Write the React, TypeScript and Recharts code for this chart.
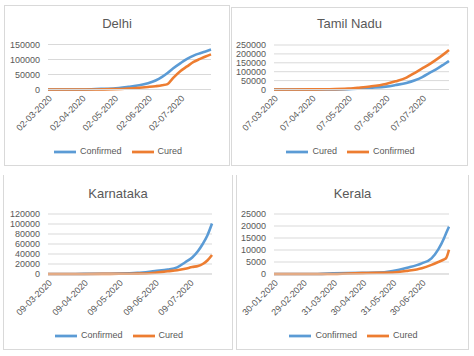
import React from 'react';
import { LineChart, Line, XAxis, YAxis, CartesianGrid, Legend } from 'recharts';

const BLUE = '#5b9bd5';
const ORANGE = '#ed7d31';
const TEXT = '#595959';
const GRID = '#d9d9d9';
const FONT = '"Liberation Sans", Arial, sans-serif';

// Delhi
const delhiDates = ['02-03-2020', '16-03-2020', '01-04-2020', '15-04-2020', '01-05-2020', '15-05-2020', '25-05-2020', '02-06-2020', '09-06-2020', '15-06-2020', '20-06-2020', '25-06-2020', '02-07-2020', '08-07-2020', '14-07-2020', '20-07-2020', '25-07-2020', '30-07-2020'];
const delhiConfirmed = [3, 7, 150, 1600, 3500, 9000, 14000, 21000, 30000, 42000, 55000, 70000, 88000, 102000, 113000, 121000, 127000, 133000];
const delhiCured = [0, 1, 10, 40, 1200, 3500, 6000, 8500, 11000, 14000, 18000, 38000, 62000, 77000, 92000, 102000, 110000, 117000];
const delhiTicks = ['02-03-2020', '02-04-2020', '02-05-2020', '02-06-2020', '02-07-2020'];
const delhiYTicks = [0, 50000, 100000, 150000];

// Tamil Nadu
const tnDates = ['07-03-2020', '20-03-2020', '07-04-2020', '20-04-2020', '07-05-2020', '15-05-2020', '25-05-2020', '07-06-2020', '15-06-2020', '24-06-2020', '01-07-2020', '07-07-2020', '14-07-2020', '20-07-2020', '25-07-2020', '29-07-2020'];
const tnConfirmed = [1, 3, 700, 1500, 5000, 10000, 17000, 31000, 46000, 67000, 94000, 118000, 147000, 175000, 200000, 222000];
const tnCured = [0, 0, 20, 400, 1500, 4000, 9000, 16000, 25000, 37000, 52000, 70000, 97000, 120000, 142000, 160000];
const tnTicks = ['07-03-2020', '07-04-2020', '07-05-2020', '07-06-2020', '07-07-2020'];
const tnYTicks = [0, 50000, 100000, 150000, 200000, 250000];

// Karnataka
const kaDates = ['09-03-2020', '25-03-2020', '09-04-2020', '25-04-2020', '09-05-2020', '25-05-2020', '09-06-2020', '20-06-2020', '28-06-2020', '05-07-2020', '11-07-2020', '16-07-2020', '20-07-2020', '24-07-2020', '28-07-2020'];
const kaConfirmed = [1, 50, 180, 500, 800, 2200, 5900, 8700, 13200, 23500, 33000, 46000, 60000, 77000, 101000];
const kaCured = [0, 3, 30, 190, 430, 700, 2600, 5600, 7500, 10500, 14000, 16000, 20000, 27000, 38000];
const kaTicks = ['09-03-2020', '09-04-2020', '09-05-2020', '09-06-2020', '09-07-2020'];
const kaYTicks = [0, 20000, 40000, 60000, 80000, 100000, 120000];

// Kerala
const klDates = ['30-01-2020', '15-02-2020', '29-02-2020', '15-03-2020', '31-03-2020', '15-04-2020', '30-04-2020', '15-05-2020', '31-05-2020', '15-06-2020', '30-06-2020', '10-07-2020', '17-07-2020', '23-07-2020', '25-07-2020', '28-07-2020'];
const klConfirmed = [1, 3, 3, 24, 241, 387, 497, 576, 1269, 2622, 4442, 6534, 10275, 15032, 16995, 19727];
const klCured = [0, 3, 3, 3, 20, 218, 369, 490, 608, 1300, 2400, 3800, 5000, 6100, 6600, 10100];
const klTicks = ['30-01-2020', '29-02-2020', '31-03-2020', '30-04-2020', '31-05-2020', '30-06-2020'];
const klYTicks = [0, 5000, 10000, 15000, 20000, 25000];

const dayOf = (s: string) => {
  const [d, m, y] = s.split('-').map(Number);
  return Date.UTC(y, m - 1, d) / 86400000;
};
const pad = (n: number) => String(n).padStart(2, '0');
const dateLabel = (t: number) => {
  const dt = new Date(t * 86400000);
  return `${pad(dt.getUTCDate())}-${pad(dt.getUTCMonth() + 1)}-${dt.getUTCFullYear()}`;
};

type Series = { key: 'confirmed' | 'cured'; name: string; color: string };
type Box = { left: number; top: number; width: number; height: number };
type Plot = { left: number; top: number; right: number; bottom: number };

type PanelProps = {
  title: string;
  dates: string[];
  confirmed: number[];
  cured: number[];
  ticks: string[];
  yTicks: number[];
  series: Series[];
  box: Box;
  plot: Plot;
  titleY: number;
  legendY: number;
  openTop?: boolean;
};

const LEGEND_H = 22;

const Panel: React.FC<PanelProps> = ({ title, dates, confirmed, cured, ticks, yTicks, series, box, plot, titleY, legendY, openTop }) => {
  const data = dates.map((d, i) => ({ t: dayOf(d), confirmed: confirmed[i], cured: cured[i] }));
  const first = dayOf(dates[0]);
  const last = dayOf(dates[dates.length - 1]);
  // keep legend entries in the order the series are listed
  const legendOrder = (item: any) => series.findIndex((s) => s.key === item.dataKey);
  return (
    <>
      <div
        style={{
          position: 'absolute',
          left: box.left,
          top: box.top,
          width: box.width,
          height: box.height,
          boxSizing: 'border-box',
          border: `1px solid ${GRID}`,
          borderTop: openTop ? 'none' : `1px solid ${GRID}`,
        }}
      />
      <div
        style={{
          position: 'absolute',
          left: box.left,
          width: box.width,
          top: titleY - 8,
          height: 16,
          lineHeight: '16px',
          textAlign: 'center',
          fontSize: 13,
          color: TEXT,
          fontFamily: FONT,
        }}
      >
        {title}
      </div>
      <div style={{ position: 'absolute', left: box.left, top: box.top }}>
        <LineChart
          width={box.width}
          height={box.height}
          data={data}
          margin={{ top: plot.top - box.top, right: box.left + box.width - plot.right, left: 0, bottom: 0 }}
          style={{ fontFamily: FONT }}
        >
          <CartesianGrid vertical={false} stroke={GRID} />
          <XAxis
            type="number"
            dataKey="t"
            domain={[first, last]}
            ticks={ticks.map(dayOf)}
            interval={0}
            tickFormatter={dateLabel}
            angle={-45}
            textAnchor="end"
            tickLine={false}
            tickSize={0}
            tickMargin={5}
            axisLine={{ stroke: GRID }}
            tick={{ fill: TEXT, fontSize: 9 }}
            height={box.top + box.height - plot.bottom}
          />
          <YAxis
            domain={[0, yTicks[yTicks.length - 1]]}
            ticks={yTicks}
            interval={0}
            axisLine={false}
            tickLine={false}
            tickSize={0}
            tickMargin={8}
            tick={{ fill: TEXT, fontSize: 9 }}
            width={plot.left - box.left}
          />
          <Legend
            verticalAlign="middle"
            align="center"
            layout="horizontal"
            iconSize={22}
            itemSorter={legendOrder}
            wrapperStyle={{ top: legendY - box.top - LEGEND_H / 2, left: 6, width: box.width, fontSize: 9, lineHeight: `${LEGEND_H}px` }}
            formatter={(value: string) => <span style={{ color: TEXT }}>{value}</span>}
          />
          {series.map((s) => (
            <Line
              key={s.key}
              type="monotone"
              dataKey={s.key}
              name={s.name}
              stroke={s.color}
              strokeWidth={2.6}
              dot={false}
              legendType="plainline"
              isAnimationActive={false}
            />
          ))}
        </LineChart>
      </div>
    </>
  );
};

const confirmedFirst: Series[] = [
  { key: 'confirmed', name: 'Confirmed', color: BLUE },
  { key: 'cured', name: 'Cured', color: ORANGE },
];
const curedFirst: Series[] = [
  { key: 'cured', name: 'Cured', color: BLUE },
  { key: 'confirmed', name: 'Confirmed', color: ORANGE },
];

const App: React.FC = () => (
  <div style={{ position: 'absolute', left: 0, top: 0, width: 474, height: 356, background: '#fff', fontFamily: FONT }}>
    <Panel
      title="Delhi"
      dates={delhiDates}
      confirmed={delhiConfirmed}
      cured={delhiCured}
      ticks={delhiTicks}
      yTicks={delhiYTicks}
      series={confirmedFirst}
      box={{ left: 4, top: 5, width: 226, height: 161 }}
      plot={{ left: 48, top: 44.5, right: 211, bottom: 89.5 }}
      titleY={24}
      legendY={151}
    />
    <Panel
      title="Tamil Nadu"
      dates={tnDates}
      confirmed={tnConfirmed}
      cured={tnCured}
      ticks={tnTicks}
      yTicks={tnYTicks}
      series={curedFirst}
      box={{ left: 231, top: 7, width: 237, height: 159 }}
      plot={{ left: 274, top: 45, right: 449, bottom: 89.5 }}
      titleY={24}
      legendY={151}
    />
    <Panel
      title="Karnataka"
      dates={kaDates}
      confirmed={kaConfirmed}
      cured={kaCured}
      ticks={kaTicks}
      yTicks={kaYTicks}
      series={confirmedFirst}
      box={{ left: 3, top: 175, width: 230, height: 175 }}
      plot={{ left: 48, top: 214, right: 212, bottom: 274 }}
      titleY={194}
      legendY={335}
      openTop
    />
    <Panel
      title="Kerala"
      dates={klDates}
      confirmed={klConfirmed}
      cured={klCured}
      ticks={klTicks}
      yTicks={klYTicks}
      series={confirmedFirst}
      box={{ left: 236, top: 175, width: 233, height: 175 }}
      plot={{ left: 274, top: 214, right: 449, bottom: 274 }}
      titleY={194}
      legendY={335}
      openTop
    />
  </div>
);

export default App;
